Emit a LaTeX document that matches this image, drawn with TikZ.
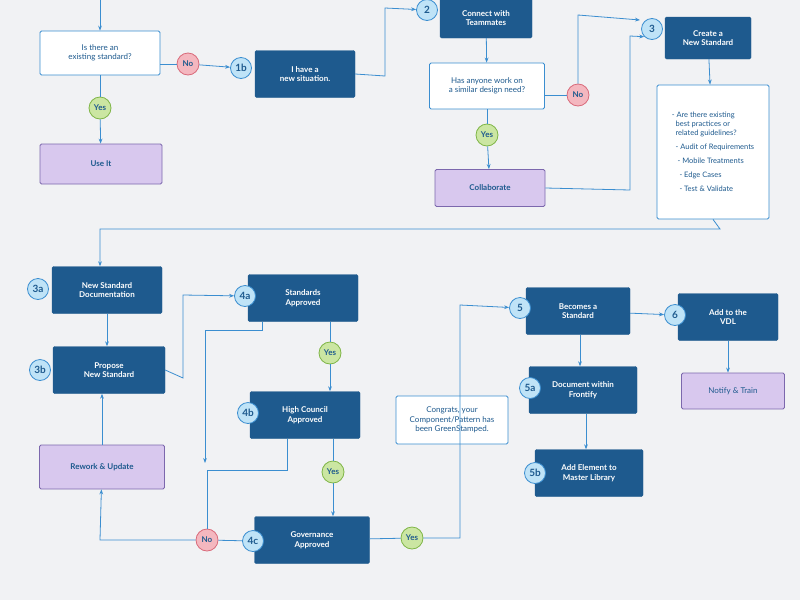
\documentclass[tikz,border=0pt]{standalone}
\usepackage{fontspec}
\setmainfont{Lato}
\usetikzlibrary{arrows.meta}
\definecolor{dblue}{HTML}{1E5A8E}
\definecolor{lblue}{HTML}{BFE3F7}
\definecolor{cblue}{HTML}{3B8ED0}
\definecolor{purp}{HTML}{D8C8EE}
\definecolor{purpb}{HTML}{7C68AD}
\definecolor{pinkf}{HTML}{F4B7BF}
\definecolor{pinkb}{HTML}{D96A7A}
\definecolor{grf}{HTML}{CBE6A2}
\definecolor{grb}{HTML}{7FB546}
\definecolor{bg}{HTML}{F1F2F4}
\begin{document}
\begin{tikzpicture}[x=1pt,y=-1pt,
 box/.style={draw=dblue,fill=dblue,text=white,rounded corners=1.5pt,font=\bfseries\fontsize{8}{9.5}\selectfont,align=center,minimum width=#1,minimum height=47,inner sep=2pt},
 box/.default=108,
 wbox/.style={draw=cblue,fill=white,text=dblue,rounded corners=1.5pt,font=\fontsize{8}{9.5}\selectfont,align=center,inner sep=3pt,line width=0.8pt},
 pbox/.style={draw=purpb,fill=purp,text=dblue,rounded corners=1.5pt,font=\bfseries\fontsize{8}{9.5}\selectfont,minimum width=#1,minimum height=40,line width=0.8pt},
 pbox/.default=120,
 num/.style={circle,draw=cblue,fill=lblue,text=dblue,font=\bfseries\fontsize{10}{10}\selectfont,minimum size=21,inner sep=0pt,line width=0.8pt},
 no/.style={circle,draw=pinkb,fill=pinkf,text=dblue,font=\bfseries\fontsize{8}{8}\selectfont,minimum size=22,inner sep=0pt,line width=0.8pt},
 yes/.style={circle,draw=grb,fill=grf,text=dblue,font=\bfseries\fontsize{8}{8}\selectfont,minimum size=22,inner sep=0pt,line width=0.8pt},
 ar/.style={draw=cblue,line width=0.8pt,-{Stealth[length=5pt]}},
 ln/.style={draw=cblue,line width=0.8pt}]
\fill[bg] (0,0) rectangle (800,600);
\useasboundingbox (0,0) rectangle (800,600);
% top row
\node[wbox,minimum width=120,minimum height=44] (q1) at (100,53) {Is there an\\existing standard?};
\coordinate (top1) at (100,0);
\node[no] (no1) at (188,64) {No};
\node[yes] (yes1) at (100,108) {Yes};
\node[pbox=122] (use) at (101,164) {Use It};
\node[box=100] (b1b) at (305,74) {I have a\\new situation.};
\node[num] (n1b) at (241,68) {1b};
\node[box=92,minimum height=40] (b2) at (486,18) {Connect with\\Teammates};
\node[num] (n2) at (427,10) {2};
\node[wbox,minimum width=115,minimum height=46] (q2) at (487,86) {Has anyone work on\\a similar design need?};
\node[no] (no2) at (578,95) {No};
\node[yes] (yes2) at (487,135) {Yes};
\node[pbox=110,minimum height=37] (coll) at (490,188) {Collaborate};
\node[box=86,minimum height=42] (b3) at (708,38) {Create a\\New Standard};
\node[num] (n3) at (652,29) {3};
\node[wbox,minimum width=112,minimum height=134,align=left,font=\fontsize{7.5}{9}\selectfont] (list) at (713,152) {- Are there existing\\\ \ best practices or\\\ \ related guidelines?\\[5pt]\ \ - Audit of Requirements\\[5pt]\ \ \ - Mobile Treatments\\[5pt]\ \ \ \ - Edge Cases\\[5pt]\ \ \ \ - Test \& Validate};
\draw[ar] (top1) -- (q1);
\draw[ln] (q1.east|-no1) -- (no1);
\draw[ar] (no1) -- (n1b);
\draw[ln] (q1) -- (yes1);
\draw[ar] (yes1) -- (use);
\draw[ar] (b1b.east) -- (385,76) -- (385,8) -- (n2);
\draw[ar] (b2) -- (q2);
\draw[ln] (q2.east|-no2) -- (no2);
\draw[ar] (no2) -- (578,15) -- (640,20);
\draw[ln] (q2) -- (yes2);
\draw[ar] (yes2) -- (coll);
\draw[ar] (coll.east) -- (630,190) -- (630,36) -- (n3.south west);
\draw[ar] (b3) -- (list);
% middle
\node[box=110] (b3a) at (107,290) {New Standard\\Documentation};
\node[num] (n3a) at (38,289) {3a};
\node[box=112] (b3b) at (109,370) {Propose\\New Standard};
\node[num] (n3b) at (40,370) {3b};
\node[pbox=125,minimum height=44] (rew) at (102,467) {Rework \& Update};
\draw[ar] (list.south) -- (720,229) -- (100,229) -- (b3a.north-|100,0);
\draw[ar] (b3a) -- (b3a|-b3b.north);
\draw[ar] (rew) -- (rew|-b3b.south);
\node[box=110] (b4a) at (303,298) {Standards\\Approved};
\node[num] (n4a) at (245,296) {4a};
\node[yes] (yes4a) at (330,353) {Yes};
\node[box=110] (b4b) at (305,415) {High Council\\Approved};
\node[num] (n4b) at (248,413) {4b};
\node[yes] (yes4b) at (333,472) {Yes};
\node[box=115] (b4c) at (312,540) {Governance\\Approved};
\node[num] (n4c) at (253,541) {4c};
\node[no] (no4) at (207,540) {No};
\draw[ar] (b3b.east) -- (183,378) -- (183,295) -- (n4a);
\draw[ln] (b4a.south-|330,0) -- (yes4a);
\draw[ar] (yes4a) -- (b4b.north-|330,0);
\draw[ar] (b4a.south-|262,0) -- (262,330) -- (205,330) -- (205,463);
\draw[ln] (b4b.south-|287,0) -- (287,470) -- (207,470) -- (no4);
\draw[ln] (b4b.south-|333,0) -- (yes4b);
\draw[ar] (yes4b) -- (b4c.north-|333,0);
\draw[ln] (n4c) -- (no4);
\draw[ar] (no4) -- (100,540) -- (rew);
% right
\node[yes] (yes4c) at (412,538) {Yes};
\node[wbox,minimum width=112,minimum height=48] (cong) at (452,420) {Congrats, your\\Component/Pattern has\\been GreenStamped.};
\node[box=104] (b5) at (578,311) {Becomes a\\Standard};
\node[num] (n5) at (520,308) {5};
\node[box=100] (b6) at (728,317) {Add to the\\VDL};
\node[num] (n6) at (675,315) {6};
\node[pbox=103,minimum height=36] (not) at (733,391) {\mdseries\fontsize{8}{9}\selectfont Notify \& Train};
\node[box=108] (b5a) at (583,390) {Document within\\Frontify};
\node[num] (n5a) at (530,388) {5a};
\node[box=108] (b5b) at (589,473) {Add Element to\\Master Library};
\node[num] (n5b) at (535,473) {5b};
\draw[ln] (b4c) -- (yes4c);
\draw[ar] (yes4c) -- (460,538) -- (460,305) -- (n5);
\draw[ar] (b5) -- (n6);
\draw[ar] (b6) -- (b6|-not.north);
\draw[ar] (b5.south-|580,0) -- (b5a.north-|580,0);
\draw[ar] (b5a.south-|586,0) -- (b5b.north-|586,0);
\end{tikzpicture}
\end{document}
